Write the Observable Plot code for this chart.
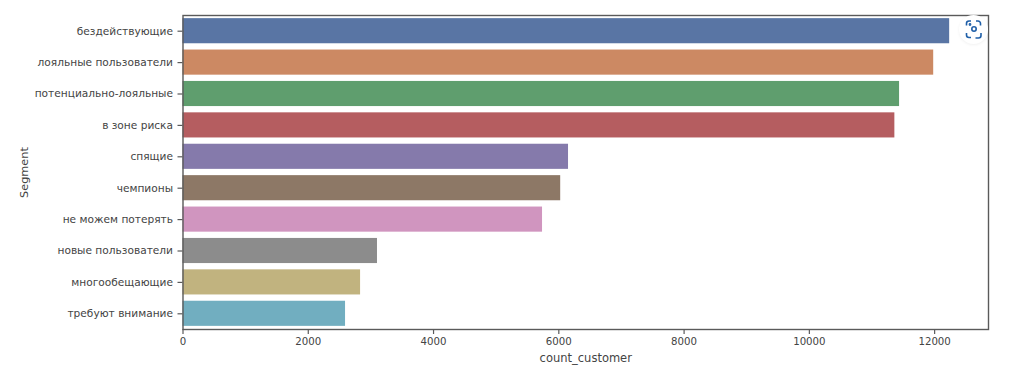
<!DOCTYPE html>
<html>
<head>
<meta charset="utf-8">
<script src="https://cdn.jsdelivr.net/npm/d3@7"></script>
<script src="https://cdn.jsdelivr.net/npm/@observablehq/plot@0.6"></script>
<style>
html,body{margin:0;padding:0;background:#fff;overflow:hidden}
#wrap{position:relative;width:1012px;height:379px}
#lens{position:absolute;left:959px;top:15px;width:29px;height:29px;border-radius:50%;background:#fff;box-shadow:0 1px 3px rgba(0,0,0,.06)}
</style>
</head>
<body>
<div id="wrap"></div>
<script>
const segments = ["бездействующие","лояльные пользователи","потенциально-лояльные","в зоне риска","спящие","чемпионы","не можем потерять","новые пользователи","многообещающие","требуют внимание"];
const counts = [12240,11985,11440,11365,6155,6030,5740,3105,2835,2595];
const colors = ["#5975a4","#cc8963","#5f9e6e","#b55d60","#857aab","#8d7866","#d095bf","#8c8c8c","#c1b37f","#71aec0"];
const xTicks = [0,2000,4000,6000,8000,10000,12000];
const rows = segments.map((segment,i)=>({segment,count:counts[i],color:colors[i]}));
const textColor = "#444";

const chart = Plot.plot({
  width:1012,height:379,
  marginLeft:182.5,marginRight:24,marginTop:15,marginBottom:50,
  style:{fontFamily:"'DejaVu Sans',sans-serif",fontSize:"10px",color:textColor,background:"#fff"},
  x:{domain:[0,12860]},
  y:{domain:segments,paddingInner:0.2,paddingOuter:0.1,align:0.5,round:false},
  marks:[
    Plot.barX(rows,{x:"count",y:"segment",fill:"color"}),
    Plot.frame({stroke:"#5a5a5a",strokeWidth:1.4}),
    Plot.axisX({ticks:xTicks,tickFormat:d=>String(d),tickSize:5,tickPadding:3,stroke:"#5a5a5a",strokeWidth:1.2,
      label:null,fontSize:10.2,fill:textColor}),
    Plot.axisY({tickSize:5,tickPadding:5,stroke:"#5a5a5a",strokeWidth:1.2,
      label:null,fontSize:10.6,fill:textColor}),
    Plot.text(["count_customer"],{frameAnchor:"bottom",dy:32,fontSize:11.5,fill:textColor}),
    Plot.text(["Segment"],{frameAnchor:"left",textAnchor:"middle",dx:-159,rotate:-90,fontSize:11.3,fill:textColor})
  ]
});
const wrap=document.getElementById("wrap");
wrap.appendChild(chart);

const lens=document.createElement("div");
lens.id="lens";
lens.innerHTML='<svg width="29" height="29" viewBox="0 0 29 29" fill="none" stroke="#1f5fa8" stroke-width="1.6">'+
 '<path d="M7.500 10.500v-2a2.500 2.500 0 0 1 2.500-2.500h2M17 6h2a2.500 2.500 0 0 1 2.500 2.500v2M22 18v2.500a2.500 2.500 0 0 1-2.500 2.500h-3M12 22.500h-2a2.500 2.500 0 0 1-2.500-2.500v-2"/>'+
 '<circle cx="15" cy="14" r="2.200"/><circle cx="11" cy="9.500" r=".6"/></svg>';
wrap.appendChild(lens);
</script>
</body>
</html>
